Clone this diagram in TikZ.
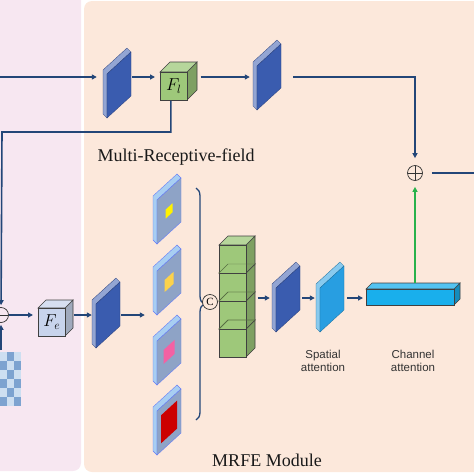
\documentclass[tikz,border=0pt]{standalone}
\usepackage{fontspec}
\setmainfont{Liberation Serif}
\setsansfont{Liberation Sans}
\usepackage{xcolor}
\usepackage{tikz}
\usetikzlibrary{arrows.meta, positioning, decorations.pathreplacing}
\definecolor{navy}{RGB}{35,70,120}
\definecolor{pinkbg}{RGB}{247,231,241}
\definecolor{beigebg}{RGB}{252,232,219}
\definecolor{plateblue}{RGB}{58,92,175}
\definecolor{skyblue}{RGB}{40,158,225}
\definecolor{barblue}{RGB}{25,175,236}
\definecolor{cubegreen}{RGB}{158,200,122}
\definecolor{fecol}{RGB}{200,212,236}
\definecolor{sumgreen}{RGB}{40,178,75}
\definecolor{facegray}{RGB}{142,163,198}
\definecolor{rimblue}{RGB}{168,206,242}
\definecolor{chkdark}{RGB}{125,163,208}
\definecolor{chklight}{RGB}{205,223,241}

% slanted feature map: name, x, y, colour
\newcommand{\fmap}[4]{%
  \begin{scope}[shift={(#2,#3)}]
    \fill[#4!55!white, draw=#4!70!black, line width=.3pt]
      (0,66) -- (0,22) -- (24,0) -- (28,4) -- (4,26) -- (4,70) -- cycle;
    \fill[#4, draw=#4!70!black, line width=.3pt]
      (4,70) -- (4,26) -- (28,4) -- (28,48) -- cycle;
    \node[inner sep=0pt, minimum width=28pt, minimum height=70pt] (#1) at (14,35) {};
  \end{scope}}

% receptive-field map: name, y, chip colour, half width, half height
\newcommand{\rfield}[5]{%
  \begin{scope}[shift={(153,#2)}]
    \fill[rimblue, draw=rimblue!60!blue, line width=.4pt]
      (0,66) -- (0,22) -- (24,0) -- (28,4) -- (4,26) -- (4,70) -- cycle;
    \fill[facegray, draw=rimblue!60!blue, line width=.4pt]
      (4,70) -- (4,26) -- (28,4) -- (28,48) -- cycle;
    \fill[#3] ({16-#4},{37-#5+0.92*#4}) -- ({16+#4},{37-#5-0.92*#4})
      -- ({16+#4},{37+#5-0.92*#4}) -- ({16-#4},{37+#5+0.92*#4}) -- cycle;
    \node[inner sep=0pt, minimum width=28pt, minimum height=70pt] (#1) at (14,35) {};
  \end{scope}}

% cube: name, x, y, width, height, depth, colour, label
\newcommand{\cube}[8]{%
  \begin{scope}[shift={(#2,#3)}]
    \fill[#7!80!black, draw=black!75, line width=.6pt]
      (#4,0) -- ++(#6,-#6) -- ++(0,#5) -- ++(-#6,#6) -- cycle;
    \fill[#7!75!white, draw=black!75, line width=.6pt]
      (0,0) -- ++(#6,-#6) -- ++(#4,0) -- ++(-#6,#6) -- cycle;
    \node[draw=black!75, line width=.6pt, fill=#7, minimum width=#4pt,
          minimum height=#5pt, inner sep=0pt, anchor=north west,
          font=\fontsize{18}{18}\selectfont] (#1) at (0,0) {#8};
  \end{scope}}

\begin{document}
\begin{tikzpicture}[x=1pt, y=-1pt,
  arr/.style={-{Triangle[length=5pt, width=5pt]}, line width=1.6pt, navy},
  garr/.style={-{Triangle[length=5pt, width=5pt]}, line width=1.6pt, sumgreen},
  wire/.style={line width=1.6pt, navy},
  title/.style={font=\fontsize{18}{18}\selectfont, text=black!90},
  tag/.style={font=\sffamily\fontsize{11.5}{13.5}\selectfont, align=center, text=black!80},
  op/.style={circle, draw=black!80, line width=.7pt, minimum size=15pt, inner sep=0pt}
]
  \useasboundingbox (0,0) rectangle (474,474);

  % panels
  \fill[pinkbg, rounded corners=8pt] (-10,-10) rectangle (81,471);
  \fill[beigebg, rounded corners=8pt] (84,1) rectangle (490,472);

  \coordinate (row1) at (0,77);
  \coordinate (row2) at (0,315);
  \coordinate (row3) at (0,298);
  \coordinate (in1) at (0,77);
  \coordinate (bend) at (2,132);
  \coordinate (out) at (474,173);

  % upper branch
  \fmap{p1}{103}{48}{plateblue}
  \cube{Fl}{160}{72}{27}{28}{10}{cubegreen}{$F_l$}
  \fmap{p2}{253}{40}{plateblue}
  \node[op, path picture={\draw[line width=.7pt]
      (path picture bounding box.north) -- (path picture bounding box.south)
      (path picture bounding box.west) -- (path picture bounding box.east);}]
      (add) at (415,173) {};

  % left input
  \node[op, path picture={\draw[line width=.7pt]
      (path picture bounding box.west) -- (path picture bounding box.east);}]
      (mul) at (1,315) {};
  \foreach \i in {0,1,2}
    \foreach \j in {0,...,5}{
      \pgfmathtruncatemacro{\odd}{mod(\i+\j,2)}
      \ifnum\odd=1 \fill[chkdark] (7*\i,352+9*\j) rectangle ++(7,9);
      \else \fill[chklight] (7*\i,352+9*\j) rectangle ++(7,9); \fi
    }
  \node[inner sep=0pt, minimum width=21pt, minimum height=54pt, anchor=north west]
      (chk) at (0,352) {};

  % lower branch
  \cube{Fe}{38}{308}{27}{28}{8}{fecol}{$F_e$}
  \fmap{p3}{92}{278}{plateblue}
  \rfield{rf1}{174}{yellow}{3.5}{4.5}
  \rfield{rf2}{245}{yellow!55!orange!70!white}{4.5}{6}
  \rfield{rf3}{315}{magenta!50!pink}{5.5}{7}
  \rfield{rf4}{385}{red!80!black}{8}{14}

  \draw[navy, line width=1.3pt, decorate, decoration={brace, amplitude=8pt}]
      (196,188) -- (196,420);
  \node[op, fill=beigebg, font=\fontsize{11}{11}\selectfont] (cat) at (210,302) {C};

  % concatenated stack
  \foreach \k in {3,2,1,0}
    \cube{s\k}{219}{245+28*\k}{27}{28}{9}{cubegreen}{}
  \foreach \k in {1,2,3}
    \draw[cubegreen!55!black, line width=.4pt] (219,245+28*\k) -- ++(9,-9) -- ++(27,0);

  \fmap{p4}{272}{262}{plateblue}
  \fmap{p5}{316}{262}{skyblue}
  \cube{bar}{366}{289}{88}{16}{6}{barblue}{}

  % texts
  \node[title] (mrf) at (176,157) {Multi-Receptive-field};
  \node[title] (mod) at (267,460) {MRFE Module};
  \node[tag] (sa) at (323,361) {Spatial\\attention};
  \node[tag] (ca) at (413,361) {Channel\\attention};

  % connectors
  \draw[arr, shorten >=6pt] (in1) -- (in1 -| p1.west);
  \draw[arr, shorten <=1pt, shorten >=5pt] (p1.east |- row1) -- (Fl.west |- row1);
  \draw[arr, shorten <=13pt, shorten >=3pt] (Fl.east |- row1) -- (p2.west |- row1);
  \draw[arr, shorten <=12pt, shorten >=7pt] (p2.east |- row1) -| (add);
  \draw[wire, shorten <=9pt] (add) -- (out);
  \draw[arr, shorten >=2pt] ([xshift=-3pt]Fl.south) |- (bend) -- (mul);
  \draw[arr, shorten <=2pt, shorten >=2pt] (mul |- chk.north) -- (mul);
  \draw[arr, shorten >=5pt] (mul) -- (Fe.west |- mul);
  \draw[arr, shorten <=8pt] (Fe.east |- row2) -- (p3.west |- row2);
  \draw[arr, shorten <=1pt, shorten >=8pt] (p3.east |- row2) -- (rf2.west |- row2);
  \draw[arr, shorten <=11pt, shorten >=2pt] (s1.east |- row3) -- (p4.west |- row3);
  \draw[arr, shorten <=2pt, shorten >=1pt] (p4.east |- row3) -- (p5.west |- row3);
  \draw[arr, shorten <=3pt, shorten >=3pt] (p5.east |- row3) -- (bar.west |- row3);
  \draw[garr, shorten <=6pt, shorten >=6pt] (add |- bar.north) -- (add);
\end{tikzpicture}
\end{document}
